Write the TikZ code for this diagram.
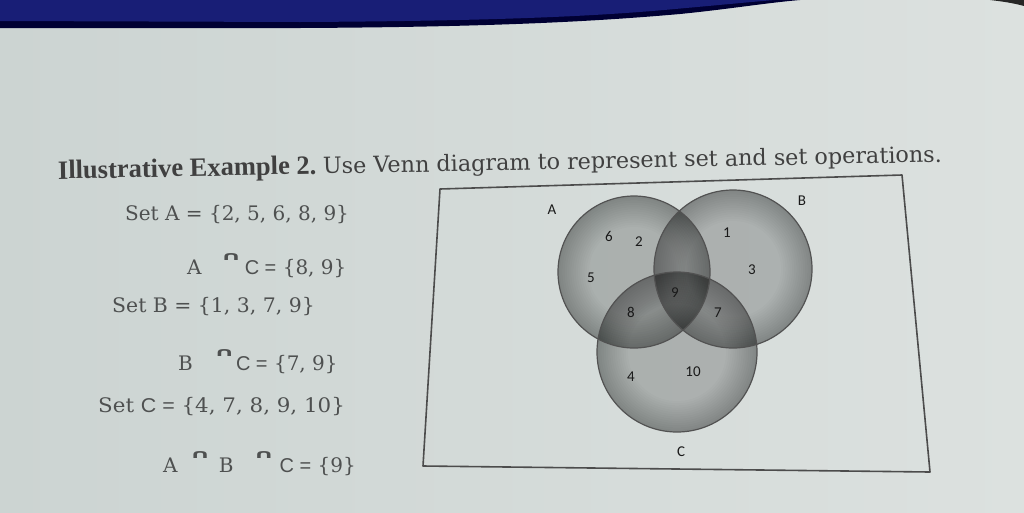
\documentclass[tikz,border=0pt]{standalone}
\usepackage{graphicx}
\usepackage{fontspec}
\setmainfont{DejaVu Serif}
\newfontfamily\titlebf{Liberation Serif}
\newfontfamily\vennfont{Carlito}
\newfontfamily\sansf{Liberation Sans}
\newfontfamily\symf{DejaVu Sans}
\definecolor{pageL}{RGB}{204,212,210}
\definecolor{pageR}{RGB}{220,225,223}
\definecolor{bandblue}{RGB}{24,30,118}
\definecolor{inkgray}{RGB}{78,80,80}
\newcommand\mycap[2]{\hspace{#1pt}\raisebox{13.5pt}{\scalebox{1.3}[0.6]{\symf\bfseries\fontsize{20}{20}\selectfont ∩}}\hspace{#2pt}}
\begin{document}
\begin{tikzpicture}[x=1pt,y=-1pt,
  settext/.style={anchor=base west, inner sep=0pt, text=inkgray, font=\fontsize{20}{20}\selectfont},
  vnum/.style={inner sep=0pt, text=black!90, font=\vennfont\fontsize{15}{15}\selectfont},
  vline/.style={draw=black!68, line width=1.2pt}]
\useasboundingbox (0,0) rectangle (1024,512);
% page
\shade[left color=pageL, right color=pageR] (0,0) rectangle (1024,512);
% blue band at the top
\fill[black!80!blue] (0,0) -- (0,28) -- (300,28) .. controls (500,27) and (600,21) .. (680,14) .. controls (730,9) and (765,3) .. (800,0) -- cycle;
\fill[bandblue] (0,0) -- (0,21) -- (300,22) .. controls (500,21) and (600,16) .. (675,9) .. controls (720,5) and (750,2) .. (775,0) -- cycle;
\fill[black!85] (990,0) .. controls (1003,1.5) and (1013,3) .. (1024,6) -- (1024,0) -- cycle;
% title
\node[anchor=base west, inner sep=0pt, rotate=1.1, text=black!75] (title) at (58,179)
  {\titlebf\bfseries\fontsize{26.5}{26.5}\selectfont Illustrative Example 2.\ \rmfamily\mdseries\fontsize{22.3}{22.3}\selectfont Use Venn diagram to represent set and set operations.};
% set texts
\node[settext] (setA) at (125,220) {Set A = \{2, 5, 6, 8, 9\}};
\node[settext] (AC) at (187,274) {A\mycap{19}{3}{\sansf C =} \{8, 9\}};
\node[settext] (setB) at (112,312) {\scalebox{1.02}[1]{Set B = \{1, 3, 7, 9\}}};
\node[settext] (BC) at (178,370) {B\mycap{21}{1}{\sansf C =} \{7, 9\}};
\node[settext] (setC) at (98,412) {\scalebox{1.07}[1]{Set {\sansf C =} \{4, 7, 8, 9, 10\}}};
\node[settext] (ABC) at (163,472) {A\mycap{12}{8}B\mycap{20}{5}{\sansf C =} \{9\}};
% frame
\draw[line width=1.6pt, black!70, line join=round] (440,189) -- (902,175) -- (930,472) -- (423,466) -- cycle;
% circles
\coordinate (cA) at (634,272);
\coordinate (cB) at (733,269);
\coordinate (cC) at (677,352);
\foreach \c/\r in {cA/76,cB/79,cC/80}{
  \fill[black, fill opacity=0.2] (\c) circle [radius=\r];
  \foreach \k in {1,...,14}{
    \fill[black, fill opacity=0.016, even odd rule] (\c) circle [radius=\r] (\c) circle [radius={\r-2.2*\k}];
  }
}
\draw[vline] (cA) circle [radius=76];
\draw[vline] (cB) circle [radius=79];
\draw[vline] (cC) circle [radius=80];
% labels
\node[vnum] (lA) at (552,210) {A};
\node[vnum] (lB) at (802,201) {B};
\node[vnum] (lC) at (681,452) {C};
\node[vnum] (n6) at (609,236) {6};
\node[vnum] (n2) at (639,242) {2};
\node[vnum] (n1) at (727,233) {1};
\node[vnum] (n3) at (752,270) {3};
\node[vnum] (n5) at (591,278) {5};
\node[vnum] (n9) at (675,293) {9};
\node[vnum] (n8) at (631,312) {8};
\node[vnum] (n7) at (718,313) {7};
\node[vnum] (n4) at (631,377) {4};
\node[vnum] (n10) at (693,372) {10};
\end{tikzpicture}
\end{document}
